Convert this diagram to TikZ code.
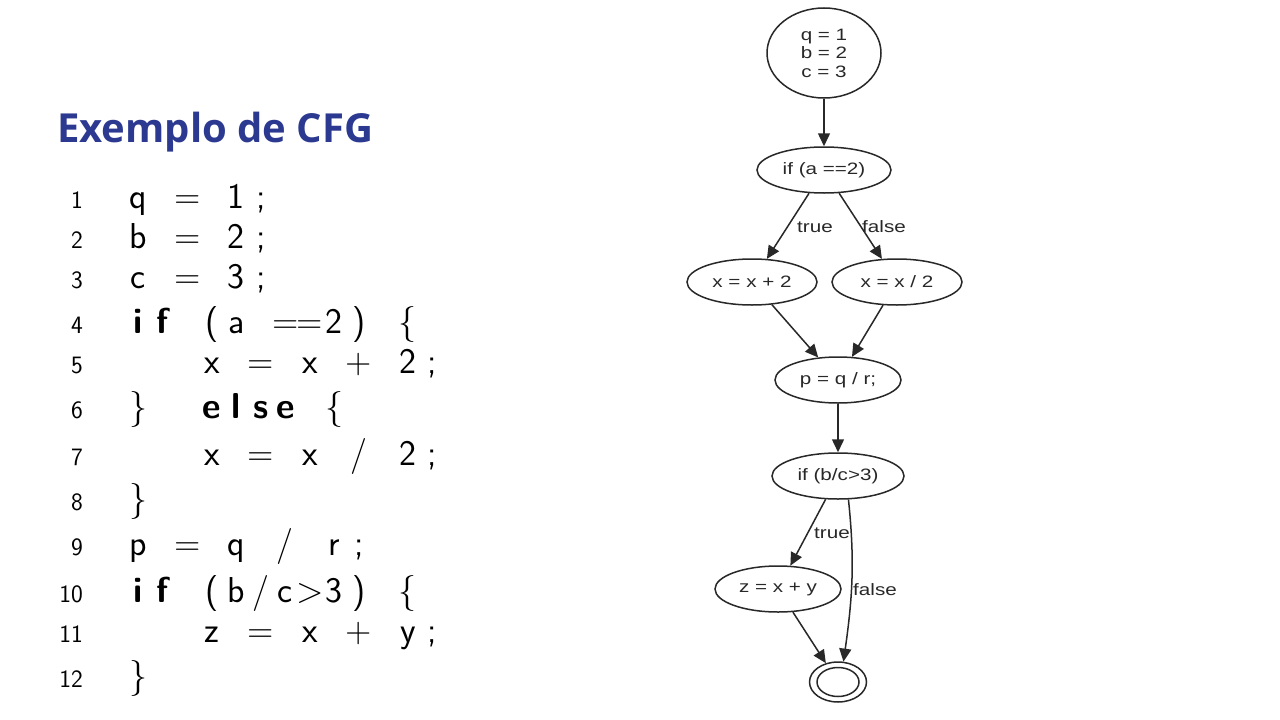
\RequirePackage{fix-cm}
\documentclass[tikz,border=0pt]{standalone}
\usepackage{fontspec}
\usetikzlibrary{shapes.geometric,arrows.meta}
\newfontfamily\titlefont{Open Sans}
\newfontfamily\gfont{Liberation Sans}[FakeStretch=1.25]
\definecolor{titleblue}{RGB}{43,57,144}
\definecolor{gtext}{RGB}{40,40,40}
\newcommand\cc[1]{\makebox[24.5pt]{#1}}
\begin{document}
\begin{tikzpicture}[x=1pt,y=-1pt,
  codetext/.style={anchor=base west, inner sep=0pt, font=\fontsize{36}{40}\selectfont\sffamily},
  lnum/.style={anchor=base east, inner sep=0pt, font=\fontsize{25}{28}\selectfont\sffamily},
  gnode/.style={draw=gtext, ellipse, line width=1.5pt, inner sep=0pt, text=gtext, font=\fontsize{16.5}{18.5}\selectfont\gfont, align=center},
  glabel/.style={inner sep=0pt, text=gtext, font=\fontsize{16.5}{18}\selectfont\gfont},
  garrow/.style={draw=gtext, line width=1.5pt, -{Triangle[length=13pt,width=12pt]}}
]
\useasboundingbox[fill=white] (0,0) rectangle (1280,720);

% title
\node[anchor=base west, inner sep=0pt, text=titleblue, font=\fontsize{40}{48}\selectfont\titlefont\bfseries] (title) at (57,142) {Exemplo de CFG};

% code listing
\node[lnum] (n1) at (83,208) {1};
\node[lnum] (n2) at (83,248) {2};
\node[lnum] (n3) at (83,288) {3};
\node[lnum] (n4) at (83,333) {4};
\node[lnum] (n5) at (83,373) {5};
\node[lnum] (n6) at (83,418) {6};
\node[lnum] (n7) at (83,465) {7};
\node[lnum] (n8) at (83,510) {8};
\node[lnum] (n9) at (83,555) {9};
\node[lnum] (n10) at (83,602) {10};
\node[lnum] (n11) at (83,642) {11};
\node[lnum] (n12) at (83,687) {12};

\node[codetext] (c1) at (126,208) {\cc{q}\cc{}\cc{=}\cc{}\cc{1}\cc{;}};
\node[codetext] (c2) at (126,248) {\cc{b}\cc{}\cc{=}\cc{}\cc{2}\cc{;}};
\node[codetext] (c3) at (126,288) {\cc{c}\cc{}\cc{=}\cc{}\cc{3}\cc{;}};
\node[codetext] (c4) at (126,333) {\cc{\bfseries i}\cc{\bfseries f}\cc{}\cc{(}\cc{a}\cc{}\cc{=}\cc{=}\cc{2}\cc{)}\cc{}\cc{$\{$}};
\node[codetext] (c5) at (126,373) {\cc{}\cc{}\cc{}\cc{x}\cc{}\cc{=}\cc{}\cc{x}\cc{}\cc{+}\cc{}\cc{2}\cc{;}};
\node[codetext] (c6) at (126,418) {\cc{$\}$}\cc{}\cc{}\cc{\bfseries e}\cc{\bfseries l}\cc{\bfseries s}\cc{\bfseries e}\cc{}\cc{$\{$}};
\node[codetext] (c7) at (126,465) {\cc{}\cc{}\cc{}\cc{x}\cc{}\cc{=}\cc{}\cc{x}\cc{}\cc{/}\cc{}\cc{2}\cc{;}};
\node[codetext] (c8) at (126,510) {\cc{$\}$}};
\node[codetext] (c9) at (126,555) {\cc{p}\cc{}\cc{=}\cc{}\cc{q}\cc{}\cc{/}\cc{}\cc{r}\cc{;}};
\node[codetext] (c10) at (126,602) {\cc{\bfseries i}\cc{\bfseries f}\cc{}\cc{(}\cc{b}\cc{/}\cc{c}\cc{$>$}\cc{3}\cc{)}\cc{}\cc{$\{$}};
\node[codetext] (c11) at (126,642) {\cc{}\cc{}\cc{}\cc{z}\cc{}\cc{=}\cc{}\cc{x}\cc{}\cc{+}\cc{}\cc{y}\cc{;}};
\node[codetext] (c12) at (126,687) {\cc{$\}$}};

% graph
\node[gnode, minimum width=114pt, minimum height=90pt] (start) at (824,53) {q = 1\\b = 2\\c = 3};
\node[gnode, minimum width=134pt, minimum height=46pt] (ifa) at (824,170) {if (a ==2)};
\node[gnode, minimum width=130pt, minimum height=46pt] (xa) at (752,282) {x = x + 2};
\node[gnode, minimum width=130pt, minimum height=46pt] (xb) at (897,282) {x = x / 2};
\node[gnode, minimum width=126pt, minimum height=46pt] (p) at (838,380) {p = q / r;};
\node[gnode, minimum width=132pt, minimum height=46pt] (ifb) at (838,476) {if (b/c>3)};
\node[gnode, minimum width=126pt, minimum height=46pt] (z) at (778,589) {z = x + y};
\node[gnode, minimum width=57pt, minimum height=40pt] (end) at (838,682) {};
\node[gnode, minimum width=42pt, minimum height=29pt] (endin) at (838,682) {};

\draw[garrow] (start) -- (ifa);
\draw[garrow] (ifa) -- (xa);
\draw[garrow] (ifa) -- (xb);
\draw[garrow] (xa) -- (p);
\draw[garrow] (xb) -- (p);
\draw[garrow] (p) -- (ifb);
\draw[garrow] (ifb) -- (z);
\draw[garrow] (ifb.-66) to[out=-84,in=82] (end.75);
\draw[garrow] (z) -- (end);

\node[glabel] (lt1) at (815,227) {true};
\node[glabel] (lf1) at (884,227) {false};
\node[glabel] (lt2) at (832,533) {true};
\node[glabel] (lf2) at (875,590) {false};
\end{tikzpicture}
\end{document}
